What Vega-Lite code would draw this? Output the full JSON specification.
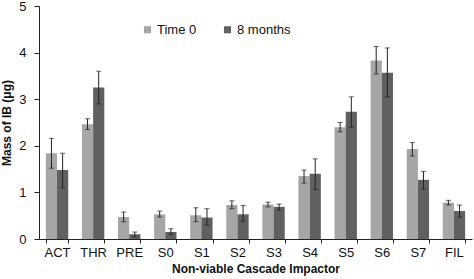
{
  "$schema": "https://vega.github.io/schema/vega-lite/v6.json",
  "width": 433,
  "height": 233,
  "autosize": {"type": "none"},
  "padding": {"left": 39, "top": 6, "right": 2, "bottom": 40},
  "background": "white",
  "config": {
    "view": {"stroke": null},
    "font": "Liberation Sans",
    "axis": {
      "domainColor": "#222",
      "tickColor": "#222",
      "labelColor": "#111",
      "titleColor": "#111",
      "labelFont": "Liberation Sans",
      "titleFont": "Liberation Sans",
      "labelFontSize": 13,
      "titleFontSize": 12,
      "titleFontWeight": "bold",
      "grid": false
    }
  },
  "data": {
    "values": [
      {"stage": "ACT", "series": "Time 0", "mass": 1.84, "lo": 1.52, "hi": 2.16},
      {"stage": "ACT", "series": "8 months", "mass": 1.48, "lo": 1.1, "hi": 1.84},
      {"stage": "THR", "series": "Time 0", "mass": 2.46, "lo": 2.35, "hi": 2.58},
      {"stage": "THR", "series": "8 months", "mass": 3.25, "lo": 2.9, "hi": 3.6},
      {"stage": "PRE", "series": "Time 0", "mass": 0.47, "lo": 0.37, "hi": 0.58},
      {"stage": "PRE", "series": "8 months", "mass": 0.1, "lo": 0.05, "hi": 0.15},
      {"stage": "S0", "series": "Time 0", "mass": 0.53, "lo": 0.47, "hi": 0.6},
      {"stage": "S0", "series": "8 months", "mass": 0.15, "lo": 0.1, "hi": 0.22},
      {"stage": "S1", "series": "Time 0", "mass": 0.51, "lo": 0.37, "hi": 0.67},
      {"stage": "S1", "series": "8 months", "mass": 0.46, "lo": 0.3, "hi": 0.65},
      {"stage": "S2", "series": "Time 0", "mass": 0.73, "lo": 0.65, "hi": 0.82},
      {"stage": "S2", "series": "8 months", "mass": 0.53, "lo": 0.38, "hi": 0.72},
      {"stage": "S3", "series": "Time 0", "mass": 0.74, "lo": 0.69, "hi": 0.79},
      {"stage": "S3", "series": "8 months", "mass": 0.69, "lo": 0.62, "hi": 0.75},
      {"stage": "S4", "series": "Time 0", "mass": 1.35, "lo": 1.2, "hi": 1.48},
      {"stage": "S4", "series": "8 months", "mass": 1.4, "lo": 1.06, "hi": 1.72},
      {"stage": "S5", "series": "Time 0", "mass": 2.4, "lo": 2.3, "hi": 2.5},
      {"stage": "S5", "series": "8 months", "mass": 2.73, "lo": 2.4, "hi": 3.05},
      {"stage": "S6", "series": "Time 0", "mass": 3.83, "lo": 3.54, "hi": 4.13},
      {"stage": "S6", "series": "8 months", "mass": 3.57, "lo": 3.05, "hi": 4.1},
      {"stage": "S7", "series": "Time 0", "mass": 1.93, "lo": 1.78, "hi": 2.07},
      {"stage": "S7", "series": "8 months", "mass": 1.27, "lo": 1.07, "hi": 1.45},
      {"stage": "FIL", "series": "Time 0", "mass": 0.78, "lo": 0.73, "hi": 0.83},
      {"stage": "FIL", "series": "8 months", "mass": 0.6, "lo": 0.47, "hi": 0.73}
    ]
  },
  "encoding": {
    "x": {
      "field": "stage",
      "type": "nominal",
      "sort": null,
      "scale": {"paddingInner": 0.38, "paddingOuter": 0.19},
      "axis": {
        "title": "Non-viable Cascade Impactor",
        "labelAngle": 0,
        "tickBand": "extent",
        "tickSize": 4,
        "labelPadding": 3,
        "titlePadding": 4
      }
    },
    "xOffset": {
      "field": "series",
      "type": "nominal",
      "sort": ["Time 0", "8 months"],
      "scale": {"paddingInner": 0, "paddingOuter": 0}
    }
  },
  "layer": [
    {
      "mark": {"type": "bar"},
      "encoding": {
        "y": {
          "field": "mass",
          "type": "quantitative",
          "scale": {"domain": [0, 5], "nice": false},
          "axis": {
            "title": "Mass of IB (μg)",
            "values": [0, 1, 2, 3, 4, 5],
            "tickSize": 5,
            "labelPadding": 8,
            "titlePadding": 5
          }
        },
        "color": {
          "field": "series",
          "type": "nominal",
          "sort": ["Time 0", "8 months"],
          "scale": {"domain": ["Time 0", "8 months"], "range": ["#a6a6a6", "#606060"]},
          "legend": {
            "title": null,
            "orient": "none",
            "legendX": 102,
            "legendY": 17,
            "direction": "horizontal",
            "symbolType": "square",
            "symbolSize": 50,
            "symbolStrokeWidth": 0,
            "labelFontSize": 13,
            "labelColor": "#111",
            "labelFont": "Liberation Sans",
            "columnPadding": 24,
            "labelOffset": 3
          }
        }
      }
    },
    {
      "mark": {"type": "rule", "color": "#222", "strokeWidth": 1},
      "encoding": {
        "y": {"field": "lo", "type": "quantitative"},
        "y2": {"field": "hi"}
      }
    },
    {
      "mark": {"type": "tick", "color": "#222", "thickness": 1, "size": 5},
      "encoding": {"y": {"field": "lo", "type": "quantitative"}}
    },
    {
      "mark": {"type": "tick", "color": "#222", "thickness": 1, "size": 5},
      "encoding": {"y": {"field": "hi", "type": "quantitative"}}
    }
  ]
}
